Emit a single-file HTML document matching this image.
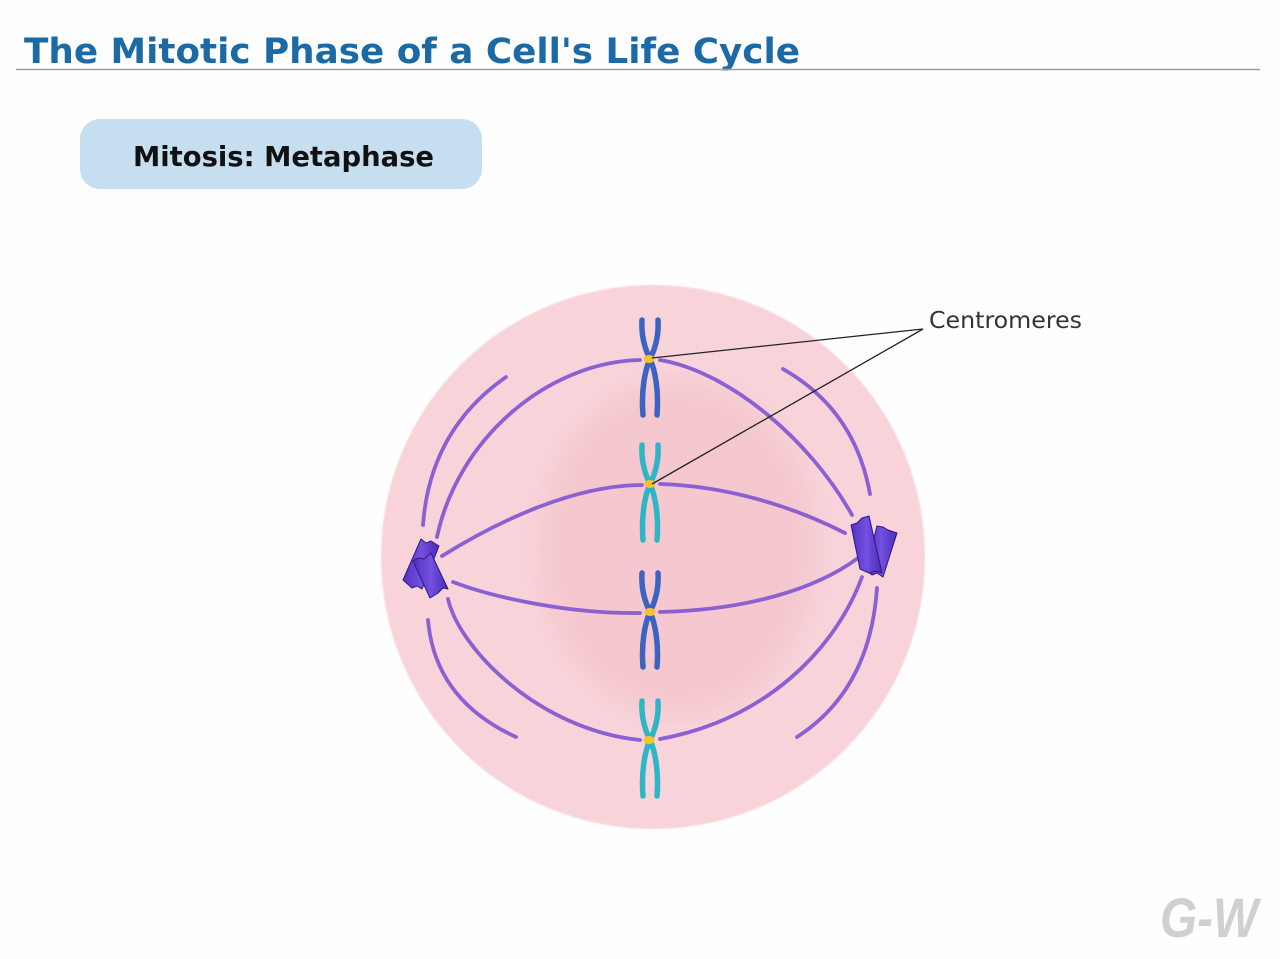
<!DOCTYPE html>
<html>
<head>
<meta charset="utf-8">
<style>
  html,body{margin:0;padding:0;background:#fefefe;}
  svg{display:block;}
</style>
</head>
<body>
<svg width="1280" height="959" viewBox="0 0 1280 959" xmlns="http://www.w3.org/2000/svg">
  <defs>
    <filter id="blur" x="-50%" y="-50%" width="200%" height="200%">
      <feGaussianBlur stdDeviation="13"/>
    </filter>
    <filter id="soft" x="-10%" y="-10%" width="120%" height="120%">
      <feGaussianBlur stdDeviation="0.8"/>
    </filter>
    <clipPath id="cell"><circle cx="653" cy="557" r="272"/></clipPath>
    <linearGradient id="cylL" x1="0" y1="0" x2="1" y2="0">
      <stop offset="0" stop-color="#5230c4"/>
      <stop offset="0.5" stop-color="#7350e0"/>
      <stop offset="1" stop-color="#4a2bb8"/>
    </linearGradient>
  </defs>
  <rect width="1280" height="959" fill="#fefefe"/>

  <!-- Title -->
  <text x="24" y="63" font-family="DejaVu Sans, Liberation Sans, sans-serif" font-weight="bold" font-size="35" fill="#1b6aa5" textLength="776" lengthAdjust="spacingAndGlyphs">The Mitotic Phase of a Cell's Life Cycle</text>
  <line x1="16" y1="69.5" x2="1260" y2="69.5" stroke="#9c9c9c" stroke-width="1.5"/>

  <!-- Label box -->
  <rect x="80" y="119" width="402" height="70" rx="20" ry="20" fill="#c6dff0"/>
  <text x="133" y="166" font-family="DejaVu Sans, Liberation Sans, sans-serif" font-weight="bold" font-size="28" fill="#111" textLength="301" lengthAdjust="spacingAndGlyphs">Mitosis: Metaphase</text>

  <!-- Cell -->
  <circle cx="653" cy="557" r="272" fill="#f8d4da" filter="url(#soft)"/>
  <g clip-path="url(#cell)">
    <ellipse cx="678" cy="548" rx="140" ry="168" fill="#f5c8cf" filter="url(#blur)"/>
  </g>

  <!-- Spindle fibers -->
  <g fill="none" stroke="#8a60d3" stroke-width="3.8" stroke-linecap="round">
    <path d="M437,537 C458,438 548,362 640,360"/>
    <path d="M660,360 C730,372 810,440 852,515"/>
    <path d="M442,556 C500,520 575,485 642,485"/>
    <path d="M660,484 C725,486 790,505 845,533"/>
    <path d="M453,582 C495,598 570,614 640,613"/>
    <path d="M660,612 C745,610 815,590 858,558"/>
    <path d="M448,599 C460,650 540,730 640,740"/>
    <path d="M660,739 C765,720 835,650 862,577"/>
    <!-- astral arcs -->
    <path d="M506,377 Q430,430 423,525"/>
    <path d="M428,620 Q435,700 516,737"/>
    <path d="M783,369 Q855,410 870,494"/>
    <path d="M877,588 Q870,690 797,737"/>
  </g>

  <!-- Chromosomes -->
  <g fill="none" stroke-width="5.5" stroke-linecap="round">
    <g stroke="#3c63c2">
      <path d="M642,320 C641,337 646,351 650,359 C645,370 641,390 643,415"/>
      <path d="M658,320 C659,337 654,351 650,359 C655,370 659,390 657,415"/>
    </g>
    <g stroke="#2eb6c6">
      <path d="M642,445 C641,462 646,476 650,484 C645,495 641,515 643,540"/>
      <path d="M658,445 C659,462 654,476 650,484 C655,495 659,515 657,540"/>
    </g>
    <g stroke="#3c63c2">
      <path d="M642,573 C641,590 646,604 650,612 C645,623 641,643 643,667"/>
      <path d="M658,573 C659,590 654,604 650,612 C655,623 659,643 657,667"/>
    </g>
    <g stroke="#2eb6c6">
      <path d="M642,701 C641,718 646,732 650,740 C645,751 641,771 643,796"/>
      <path d="M658,701 C659,718 654,732 650,740 C655,751 659,771 657,796"/>
    </g>
  </g>
  <!-- Centromeres (yellow) -->
  <g fill="#f4c42a">
    <ellipse cx="649" cy="359" rx="5.5" ry="4"/>
    <ellipse cx="650" cy="484" rx="5.5" ry="4"/>
    <ellipse cx="650" cy="612" rx="5.5" ry="4"/>
    <ellipse cx="649" cy="740" rx="5.5" ry="4"/>
  </g>

  <!-- Leader lines -->
  <g stroke="#222" stroke-width="1.3" fill="none">
    <line x1="923" y1="329" x2="652" y2="358"/>
    <line x1="923" y1="329" x2="652" y2="484"/>
  </g>
  <text x="929" y="328" font-family="DejaVu Sans, Liberation Sans, sans-serif" font-size="23" fill="#333" textLength="153" lengthAdjust="spacingAndGlyphs">Centromeres</text>

  <!-- Left centrosome -->
  <g stroke="#2e1a7a" stroke-width="1" stroke-linejoin="round" fill="url(#cylL)">
    <polygon points="421,539 426,543 431,541 439,546 422,589 417,586 412,588 403,580"/>
    <polygon points="413,561 419,558 424,559 431,553 448,589 443,588 438,593 430,598"/>
  </g>

  <!-- Right centrosome -->
  <g stroke="#2e1a7a" stroke-width="1" stroke-linejoin="round" fill="url(#cylL)">
    <polygon points="877,526 883,527 888,530 897,533 883,577 877,573 872,575 866,570"/>
    <polygon points="851,525 857,523 862,518 869,516 882,573 876,571 869,573 860,569"/>
  </g>

  <!-- G-W logo -->
  <text x="1160" y="937" font-family="Liberation Sans, DejaVu Sans, sans-serif" font-weight="bold" font-style="italic" font-size="56" fill="#d0d0d0" textLength="98" lengthAdjust="spacingAndGlyphs">G-W</text>
</svg>
</body>
</html>
